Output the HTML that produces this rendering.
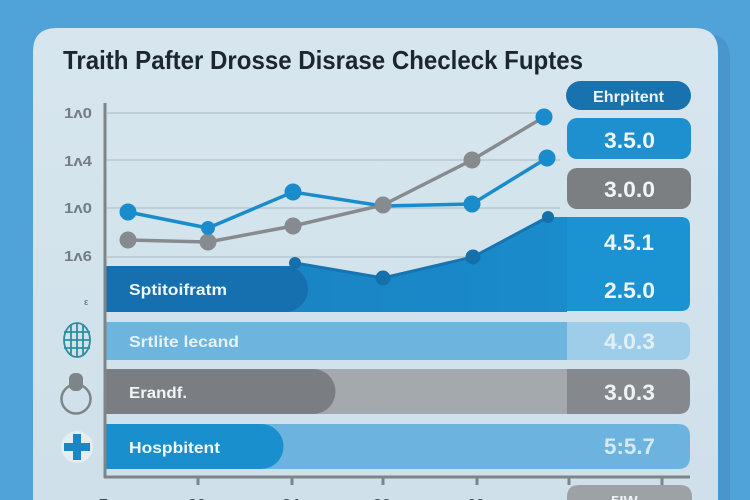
<!DOCTYPE html>
<html><head><meta charset="utf-8"><style>
html,body{margin:0;padding:0;width:750px;height:500px;overflow:hidden;background:#4fa3d9}
svg{display:block}
text{font-family:"Liberation Sans",sans-serif;font-weight:bold}
</style></head><body>
<svg width="750" height="500" viewBox="0 0 750 500" xmlns="http://www.w3.org/2000/svg">
<defs>
<linearGradient id="card" x1="0" y1="0" x2="0" y2="1"><stop offset="0" stop-color="#d7e6ee"/><stop offset="1" stop-color="#cfe0ea"/></linearGradient>
<linearGradient id="area" x1="0" y1="0" x2="1" y2="0"><stop offset="0" stop-color="#1a80c0"/><stop offset="1" stop-color="#1a8bcb"/></linearGradient>
<clipPath id="frame"><rect x="0" y="0" width="750" height="500"/></clipPath>
</defs>
<g clip-path="url(#frame)">
<rect x="0" y="0" width="750" height="500" fill="#4fa3d9"/>
<path d="M40,500 L40,58 Q40,34 64,34 L706,34 Q730,34 730,58 L730,500 Z" fill="#4896cb"/>
<path d="M33,500 L33,52 Q33,28 57,28 L694,28 Q718,28 718,52 L718,500 Z" fill="url(#card)"/>

<text x="63" y="69" font-size="26" fill="#1c2630" textLength="520" lengthAdjust="spacingAndGlyphs">Traith Pafter Drosse Disrase Checleck Fuptes</text>

<!-- grid -->
<g stroke="#b7c8d2" stroke-width="1.5">
<line x1="107" y1="113" x2="552" y2="113"/>
<line x1="107" y1="160" x2="560" y2="160"/>
<line x1="107" y1="208" x2="560" y2="208"/>
<line x1="107" y1="257" x2="560" y2="257"/>
</g>

<!-- y labels -->
<g font-size="15" fill="#737d84">
<text x="64" y="118" textLength="28" lengthAdjust="spacingAndGlyphs">1ʌ0</text>
<text x="64" y="166" textLength="28" lengthAdjust="spacingAndGlyphs">1ʌ4</text>
<text x="64" y="213" textLength="28" lengthAdjust="spacingAndGlyphs">1ʌ0</text>
<text x="64" y="261" textLength="28" lengthAdjust="spacingAndGlyphs">1ʌ6</text>
<text x="84" y="305" font-size="9">ε</text>
</g>

<!-- lines -->
<polyline points="128,240 208,242 293,226 383,205 472,160 544,117" fill="none" stroke="#878b8f" stroke-width="3.5"/>
<polyline points="128,212 208,228 293,192 383,206 472,204 547,158" fill="none" stroke="#1a8ccc" stroke-width="3.5"/>
<g fill="#878b8f">
<circle cx="128" cy="240" r="8.5"/><circle cx="208" cy="242" r="8.5"/><circle cx="293" cy="226" r="8.5"/><circle cx="383" cy="205" r="8.5"/><circle cx="472" cy="160" r="8.5"/>
</g>
<g fill="#1a8ccc">
<circle cx="128" cy="212" r="8.5"/><circle cx="208" cy="228" r="7"/><circle cx="293" cy="192" r="8.5"/><circle cx="472" cy="204" r="8.5"/><circle cx="547" cy="158" r="8.5"/><circle cx="544" cy="117" r="8.5"/>
</g>

<!-- area -->
<path d="M105,266 L295,266 L295,263 L383,278 L473,257 L548,217 L567,217 L567,312 L105,312 Z" fill="url(#area)"/>
<polyline points="295,263 383,278 473,257 548,217" fill="none" stroke="#1674b3" stroke-width="3"/>
<path d="M567,217 L681,217 Q690,217 690,226 L690,302 Q690,311 681,311 L567,311 Z" fill="#1b93d2"/>
<path d="M105,266 L285,266 A23,23 0 0 1 285,312 L105,312 Z" fill="#166fae"/>
<g fill="#1470ad">
<circle cx="295" cy="263" r="6"/><circle cx="383" cy="278" r="7.5"/><circle cx="473" cy="257" r="7.5"/><circle cx="548" cy="217" r="6"/>
</g>

<!-- band 2 -->
<rect x="105" y="322" width="462" height="38" fill="#6db4df"/>
<path d="M567,322 L680,322 Q690,322 690,332 L690,350 Q690,360 680,360 L567,360 Z" fill="#9ecde9"/>
<!-- band 3 -->
<rect x="105" y="369" width="462" height="45" fill="#a4a9ad"/>
<path d="M567,369 L678,369 Q690,369 690,381 L690,402 Q690,414 678,414 L567,414 Z" fill="#85898d"/>
<path d="M105,369 L313,369 A22.5,22.5 0 0 1 313,414 L105,414 Z" fill="#7a7e82"/>
<!-- band 4 -->
<path d="M105,424 L678,424 Q690,424 690,436 L690,457 Q690,469 678,469 L105,469 Z" fill="#6cb4df"/>
<path d="M105,424 L261,424 A22.5,22.5 0 0 1 261,469 L105,469 Z" fill="#1a8fcd"/>

<!-- axes -->
<line x1="105" y1="103" x2="105" y2="478" stroke="#7d8589" stroke-width="3"/>
<line x1="104" y1="477" x2="690" y2="477" stroke="#7d8589" stroke-width="3"/>
<g stroke="#7d8589" stroke-width="3">
<line x1="198" y1="477" x2="198" y2="485"/><line x1="292" y1="477" x2="292" y2="485"/><line x1="383" y1="477" x2="383" y2="485"/><line x1="477" y1="477" x2="477" y2="485"/><line x1="569" y1="477" x2="569" y2="485"/><line x1="662" y1="477" x2="662" y2="485"/>
</g>
<g font-size="16" fill="#3f4a52" font-weight="normal">
<text x="99" y="510">7</text><text x="188" y="510">30</text><text x="282" y="510">34</text><text x="373" y="510">32</text><text x="467" y="510">60</text>
</g>
<path d="M567,500 L567,497 Q567,485 579,485 L680,485 Q692,485 692,497 L692,500 Z" fill="#9da2a6"/>
<text x="611" y="506" font-size="15" fill="#eef3f6">5IW</text>

<!-- band labels -->
<text x="129" y="295" font-size="16" fill="#f2f7fa" textLength="98" lengthAdjust="spacingAndGlyphs">Sptitoifratm</text>
<text x="129" y="347" font-size="16" fill="#e6f2f9" textLength="110" lengthAdjust="spacingAndGlyphs">Srtlite lecand</text>
<text x="129" y="398" font-size="16" fill="#f2f4f5" textLength="58" lengthAdjust="spacingAndGlyphs">Erandf.</text>
<text x="129" y="453" font-size="16" fill="#f2f7fa" textLength="91" lengthAdjust="spacingAndGlyphs">Hospbitent</text>

<!-- right pills -->
<rect x="566" y="81" width="125" height="29" rx="14.5" fill="#1872ad"/>
<text x="593" y="102" font-size="16" fill="#eef5fa" textLength="71" lengthAdjust="spacingAndGlyphs">Ehrpitent</text>
<rect x="567" y="118" width="124" height="41" rx="10" fill="#1e8fcf"/>
<text x="604" y="148" font-size="22" fill="#f2f7fa" textLength="51" lengthAdjust="spacingAndGlyphs">3.5.0</text>
<rect x="567" y="168" width="124" height="41" rx="10" fill="#7b7f82"/>
<text x="604" y="197" font-size="22" fill="#f2f4f5" textLength="51" lengthAdjust="spacingAndGlyphs">3.0.0</text>
<text x="604" y="250" font-size="22" fill="#eef5fa" textLength="50" lengthAdjust="spacingAndGlyphs">4.5.1</text>
<text x="604" y="298" font-size="22" fill="#eef5fa" textLength="51" lengthAdjust="spacingAndGlyphs">2.5.0</text>
<text x="604" y="349" font-size="22" fill="#e2eff7" textLength="51" lengthAdjust="spacingAndGlyphs">4.0.3</text>
<text x="604" y="400" font-size="22" fill="#f0f2f3" textLength="51" lengthAdjust="spacingAndGlyphs">3.0.3</text>
<text x="604" y="454" font-size="22" fill="#d6e9f5" textLength="51" lengthAdjust="spacingAndGlyphs">5:5.7</text>

<!-- icons -->
<g stroke="#2b8fa0" stroke-width="1.8" fill="none">
<ellipse cx="77" cy="340" rx="13" ry="17"/>
<line x1="64" y1="332" x2="90" y2="332"/><line x1="64" y1="340" x2="90" y2="340"/><line x1="64" y1="348" x2="90" y2="348"/>
<line x1="71" y1="324" x2="71" y2="356"/><line x1="77" y1="323" x2="77" y2="357"/><line x1="83" y1="324" x2="83" y2="356"/>
</g>
<rect x="69" y="373" width="14" height="18" rx="6" fill="#7d8589"/>
<circle cx="76" cy="399" r="14.5" fill="none" stroke="#7d8589" stroke-width="2.5"/>
<circle cx="77" cy="447" r="16" fill="#e3edf2"/>
<rect x="73" y="434" width="8" height="26" fill="#1a86c4"/>
<rect x="64" y="443" width="26" height="8" fill="#1a86c4"/>
</g>
</svg>
</body></html>
